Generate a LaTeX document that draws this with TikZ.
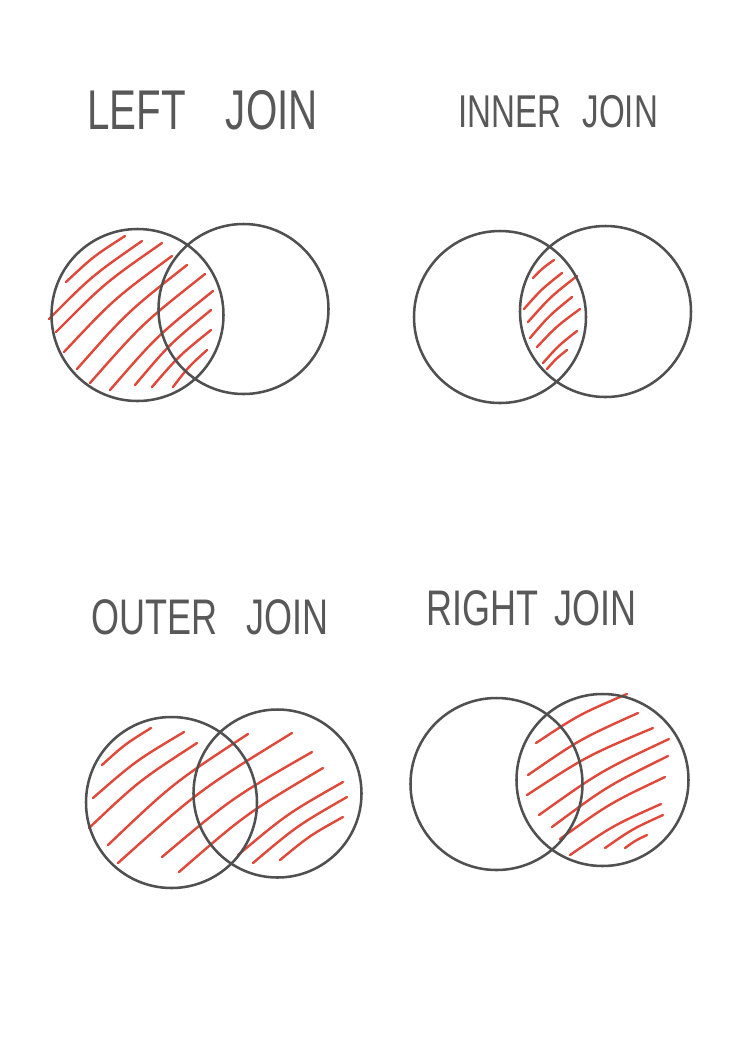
\documentclass[tikz,border=0pt]{standalone}
\usepackage{fontspec}
\setmainfont{Liberation Sans}[FakeStretch=0.72]
\usetikzlibrary{calc}
\definecolor{ink}{HTML}{505050}
\definecolor{txt}{HTML}{585858}
\definecolor{pen}{HTML}{E0483A}
\tikzset{
  circ/.style={draw=ink, line width=1.9pt},
  hatch/.style={draw=pen, line width=1.8pt, line cap=round},
  title/.style={text=txt, inner sep=0pt, anchor=base west}
}
\newcommand\hs[4]{\draw[hatch] (#1,#2) .. controls ($(#1,#2)!0.5!(#3,#4)!0.09!90:(#3,#4)$) .. (#3,#4);}
\begin{document}
\begin{tikzpicture}[x=0.75pt,y=-0.75pt]
\fill[white] (0,0) rectangle (743,1051);
\useasboundingbox (0,0) rectangle (743,1051);
% titles
\node[title, font=\fontsize{42}{44}\selectfont] (tleft) at (87,129) {LEFT\hspace{30pt}JOIN};
\node[title, font=\fontsize{34.5}{36}\selectfont] (tinner) at (458,127) {INNER\hspace{16pt}JOIN};
\node[title, font=\fontsize{37.5}{39}\selectfont] (touter) at (91,634) {OUTER\hspace{22pt}JOIN};
\node[title, font=\fontsize{37.5}{39}\selectfont] (tright) at (426,625) {RIGHT\hspace{12pt}JOIN};
% LEFT JOIN hatches
\hs{66}{282}{125}{236}
\hs{49}{319}{142}{241}
\hs{56}{332}{162}{243}
\hs{64}{352}{172}{256}
\hs{77}{369}{187}{265}
\hs{90}{383}{205}{274}
\hs{110}{390}{213}{291}
\hs{135}{385}{211}{310}
\hs{152}{387}{211}{330}
\hs{173}{387}{207}{350}
% INNER JOIN hatches
\hs{533}{278}{554}{260}
\hs{524}{309}{562}{273}
\hs{528}{322}{577}{276}
\hs{530}{338}{572}{297}
\hs{537}{347}{580}{309}
\hs{543}{363}{577}{331}
\hs{547}{369}{567}{350}
% OUTER JOIN hatches
\hs{102}{765}{151}{728}
\hs{93}{798}{184}{732}
\hs{89}{828}{197}{743}
\hs{108}{845}{248}{734}
\hs{118}{863}{292}{733}
\hs{162}{857}{312}{752}
\hs{179}{872}{323}{768}
\hs{238}{855}{343}{782}
\hs{253}{863}{347}{797}
\hs{280}{860}{343}{817}
% RIGHT JOIN hatches
\hs{536}{743}{627}{694}
\hs{528}{775}{638}{713}
\hs{527}{795}{653}{728}
\hs{539}{815}{669}{739}
\hs{552}{827}{668}{756}
\hs{560}{839}{665}{777}
\hs{570}{855}{661}{804}
\hs{605}{848}{663}{815}
\hs{625}{848}{647}{835}
% circles
\draw[circ] (137.5,315) circle (86);
\draw[circ] (243.5,309) circle (85);
\draw[circ] (500,317) circle (86);
\draw[circ] (605.5,311.5) circle (85.5);
\draw[circ] (171.5,802.5) circle (85.5);
\draw[circ] (277.5,793.5) circle (84);
\draw[circ] (496.5,784) circle (86);
\draw[circ] (602.5,780) circle (86);
\end{tikzpicture}
\end{document}
